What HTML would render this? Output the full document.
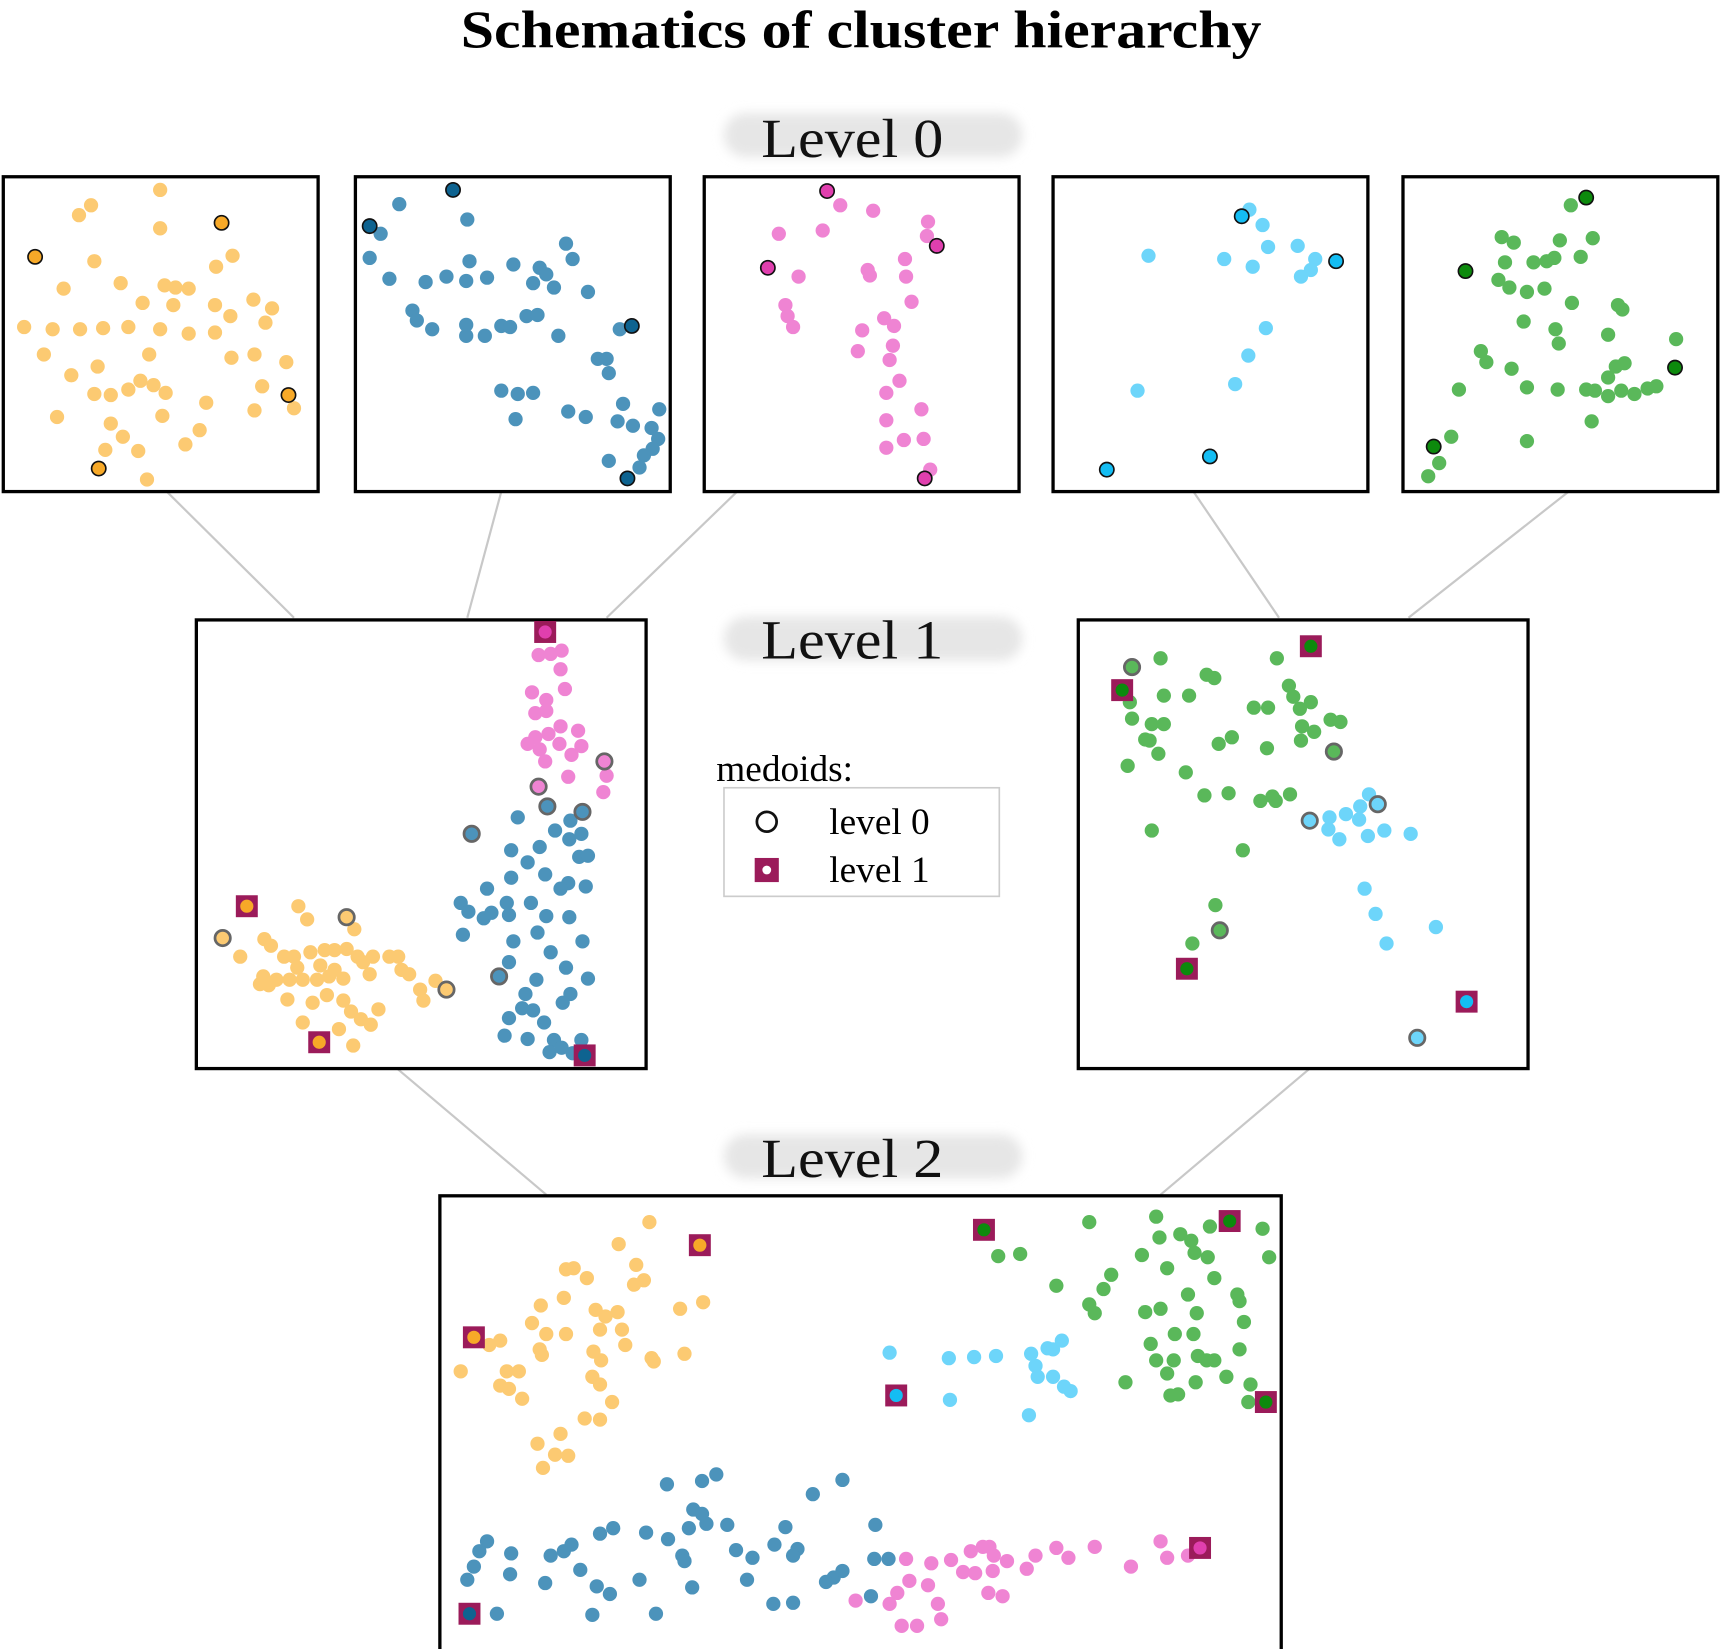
<!DOCTYPE html>
<html><head><meta charset="utf-8">
<style>
html,body{margin:0;padding:0;background:#fff;}
svg{display:block;}
</style></head>
<body>
<svg id="s" width="1720" height="1649" viewBox="0 0 1568 1503" xmlns="http://www.w3.org/2000/svg">
<defs>
<filter id="bl" x="-20%" y="-50%" width="140%" height="200%"><feGaussianBlur stdDeviation="5"/></filter>
</defs>
<rect width="1568" height="1503" fill="#fff"/>
<text x="420" y="43" textLength="730" lengthAdjust="spacingAndGlyphs" font-family="Liberation Serif, serif" font-weight="bold" font-size="48">Schematics of cluster hierarchy</text>
<g fill="#e6e6e6" filter="url(#bl)">
<rect x="660" y="103" width="272" height="40" rx="20"/>
<rect x="660" y="562" width="272" height="40" rx="20"/>
<rect x="660" y="1034" width="272" height="40" rx="20"/>
</g>
<g font-family="Liberation Serif, serif" font-size="50" fill="#111">
<text x="694" y="143" textLength="166" lengthAdjust="spacingAndGlyphs">Level 0</text>
<text x="694" y="600" textLength="166" lengthAdjust="spacingAndGlyphs">Level 1</text>
<text x="694" y="1073" textLength="166" lengthAdjust="spacingAndGlyphs">Level 2</text>
</g>
<g stroke="#c8c8c8" stroke-width="2">
<line x1="152" y1="448" x2="268" y2="563"/>
<line x1="457" y1="448" x2="426" y2="563"/>
<line x1="672" y1="448" x2="553" y2="563"/>
<line x1="1088" y1="448" x2="1166" y2="563"/>
<line x1="1430" y1="448" x2="1284" y2="563"/>
<line x1="362" y1="974" x2="498" y2="1089"/>
<line x1="1194" y1="974" x2="1058" y2="1089"/>
</g>
<g fill="none" stroke="#000" stroke-width="3">
<rect x="3" y="161" width="287" height="287"/>
<rect x="324" y="161" width="287" height="287"/>
<rect x="642" y="161" width="287" height="287"/>
<rect x="960" y="161" width="287" height="287"/>
<rect x="1279" y="161" width="287" height="287"/>
<rect x="179" y="565" width="410" height="409"/>
<rect x="983" y="565" width="410" height="409"/>
<rect x="401" y="1090" width="767" height="420"/>
</g>
<text x="653" y="712" font-family="Liberation Serif, serif" font-size="34">medoids:</text>
<rect x="660" y="718" width="251" height="99" fill="#fff" stroke="#ccc" stroke-width="1.5"/>
<circle cx="699" cy="749" r="9" fill="none" stroke="#111" stroke-width="2.5"/>
<rect x="688" y="782" width="22" height="22" fill="#9b1b5a"/>
<circle cx="699" cy="793" r="4" fill="#fff"/>
<g font-family="Liberation Serif, serif" font-size="34">
<text x="756" y="760">level 0</text>
<text x="756" y="804">level 1</text>
</g>
<g id="pts"></g>
</svg>
<script>
var C={o:["#fcca72","#f7a928"],b:["#4c93bb","#0e6390"],p:["#ef84d3","#e03fae"],c:["#6dd5fa","#14bdf3"],g:["#5ab85a","#0d8a0d"]};
var D=[
["o","146,173 83,187 72,196 146,208 212,233 197,243 86,238 110,258 58,263 150,260 160,262 172,263 130,276 196,278 231,273 248,281 158,278 210,288 22,298 48,300 73,300 94,299 117,298 146,300 172,304 196,303 242,294 40,323 136,323 211,326 232,323 261,330 89,334 65,342 128,347 86,359 101,360 117,355 140,351 151,358 239,352 188,367 232,374 268,372 52,380 101,386 148,379 112,398 182,392 169,405 126,411 96,410 134,437"],
["b","364,186 426,200 347,213 337,235 355,254 388,257 407,252 425,256 428,238 444,253 468,241 492,244 498,250 516,222 522,236 486,258 505,262 536,266 376,283 380,292 394,300 425,296 425,306 442,306 457,297 465,298 480,288 490,287 509,306 545,327 553,327 555,340 457,356 472,359 486,358 470,382 518,375 534,380 568,368 601,373 594,390 577,388 600,400 563,384 595,409 587,415 583,426 555,420 565,300"],
["p","766,187 796,192 846,202 710,213 750,210 845,215 728,252 791,246 825,236 793,251 826,252 716,278 718,288 723,298 806,290 786,301 815,297 831,275 814,315 782,320 811,328 820,347 808,358 840,373 808,383 808,408 824,401 842,400 848,428"],
["c","1139,191 1151,205 1047,233 1116,236 1142,243 1156,225 1183,224 1199,236 1195,246 1186,252 1154,299 1138,324 1126,350 1037,356"],
["g","1432,187 1369,216 1380,221 1422,219 1452,217 1441,234 1417,235 1410,238 1398,239 1372,239 1366,255 1376,262 1392,266 1408,263 1433,276 1475,278 1479,282 1389,293 1418,300 1421,313 1466,305 1528,309 1350,320 1355,330 1378,336 1473,334 1481,331 1466,344 1454,356 1466,361 1478,356 1392,353 1420,355 1446,355 1490,359 1502,354 1510,352 1330,355 1451,384 1323,398 1392,402 1312,422 1302,434"],
["p","491,597 502,596 512,593 511,610 485,631 498,638 515,628 488,650 498,648 511,662 488,672 500,669 510,678 492,683 527,666 530,680 521,688 481,678 497,694 553,707 518,708 550,722"],
["b","472,745 520,748 506,757 519,765 530,760 466,775 492,772 528,781 536,780 481,786 466,800 497,797 518,805 534,808 511,810 444,810 420,823 427,831 462,823 484,823 464,834 441,837 448,832 498,835 519,836 422,852 468,858 490,850 531,858 502,868 516,882 464,877 489,893 536,892 479,906 520,906 513,914 476,919 486,921 464,928 496,932 460,944 481,947 505,948 501,959 512,955 522,960 530,948"],
["o","272,826 280,838 241,856 247,862 219,872 259,872 268,872 283,868 296,866 305,866 323,847 316,865 292,880 271,882 252,893 237,897 245,898 264,893 276,893 240,890 262,911 285,914 298,907 313,912 320,922 329,929 345,920 338,934 309,938 276,932 322,953 326,872 340,872 355,872 363,872 337,888 366,884 373,888 383,902 386,912 397,894 313,892 300,890 289,893 305,884 331,877"],
["g","1058,600 1164,600 1175,625 1100,615 1107,618 1061,634 1084,634 1143,645 1156,645 1030,640 1032,655 1050,660 1061,660 1185,646 1187,662 1213,656 1222,658 1198,667 1186,675 1044,674 1048,675 1111,678 1123,672 1056,687 1155,682 1028,698 1081,704 1098,725 1120,723 1149,730 1160,726 1163,730 1176,724 1050,757 1133,775 1108,825 1087,860 1179,635 1195,640"],
["c","1248,724 1240,735 1227,742 1212,745 1239,747 1211,756 1221,765 1247,762 1262,757 1286,760 1244,810 1254,833 1264,860 1309,845"],
["o","592,1114 564,1134 516,1157 523,1156 535,1165 580,1153 587,1167 578,1171 514,1183 493,1190 485,1206 543,1194 563,1196 552,1200 620,1193 641,1187 498,1216 516,1216 547,1212 567,1212 456,1222 446,1226 492,1230 494,1235 541,1232 570,1226 548,1240 420,1250 462,1250 473,1250 594,1238 596,1241 624,1234 540,1255 547,1262 464,1266 456,1263 476,1275 558,1278 533,1293 547,1294 511,1307 490,1316 506,1326 518,1327 495,1338"],
["g","993,1114 1054,1109 1076,1125 1057,1128 1086,1131 1089,1142 1101,1146 1103,1118 1151,1120 1157,1146 910,1145 930,1143 1041,1144 1064,1156 1107,1165 963,1172 1013,1162 1006,1175 1083,1180 1128,1180 1130,1186 993,1189 998,1197 1044,1196 1058,1193 1091,1197 1134,1205 1071,1216 1088,1216 1049,1225 1092,1236 1130,1230 1054,1240 1070,1240 1100,1240 1107,1240 1118,1255 1064,1252 1026,1260 1090,1260 1140,1262 1067,1272 1074,1271 1138,1278"],
["c","811,1233 865,1238 888,1237 908,1236 940,1234 955,1229 960,1230 968,1222 946,1255 960,1255 970,1264 976,1268 866,1276 938,1290 944,1245"],
["b","653,1344 640,1350 608,1353 741,1362 768,1349 632,1376 640,1380 663,1390 628,1393 644,1389 559,1393 547,1398 589,1397 609,1403 716,1392 798,1390 444,1405 521,1408 514,1414 437,1414 466,1416 502,1418 622,1418 671,1413 706,1408 727,1412 624,1423 432,1428 465,1435 529,1431 723,1418 797,1421 810,1421 686,1420 760,1438 768,1432 426,1440 497,1443 544,1446 556,1453 583,1440 631,1447 681,1440 753,1442 705,1462 723,1461 794,1455 453,1471 540,1472 598,1471"],
["p","826,1421 849,1425 867,1422 885,1414 896,1410 902,1410 906,1418 918,1423 944,1418 963,1411 974,1420 998,1410 1031,1428 1058,1405 1064,1420 1083,1418 829,1441 846,1445 878,1433 889,1434 905,1432 936,1430 901,1452 914,1455 818,1452 780,1459 811,1462 855,1462 822,1482 836,1482 858,1476"]
];
var M0=[["o","32,234 202,203 263,360 90,427"],["b","413,173 337,206 576,297 572,436"],["p","754,174 854,224 700,244 843,436"],["c","1132,197 1218,238 1103,416 1009,428"],["g","1446,180 1336,247 1527,335 1307,407"]];
var MG=[["p","491,717 551,694"],["b","499,735 531,740 430,760 455,890"],["o","407,902 316,836 203,855"],["g","1032,608 1216,685 1112,848"],["c","1194,748 1256,733 1292,946"]];
var SQ=[["p","497,576 1094,1411"],["o","225,826 291,950 638,1135 432,1219"],["b","533,962 428,1471"],["g","1195,589 1023,629 1082,883 897,1121 1121,1113 1154,1278"],["c","1337,913 817,1272"]];
var g=document.getElementById("pts"),h="";
function each(s,f){s.split(" ").forEach(function(p){var a=p.split(",");f(+a[0],+a[1]);});}
D.forEach(function(d){each(d[1],function(x,y){h+='<circle cx="'+x+'" cy="'+y+'" r="6.5" fill="'+C[d[0]][0]+'"/>';});});
MG.forEach(function(d){each(d[1],function(x,y){h+='<circle cx="'+x+'" cy="'+y+'" r="7" fill="'+C[d[0]][0]+'" stroke="#666" stroke-width="2.5"/>';});});
M0.forEach(function(d){each(d[1],function(x,y){h+='<circle cx="'+x+'" cy="'+y+'" r="6.5" fill="'+C[d[0]][1]+'" stroke="#111" stroke-width="1.5"/>';});});
SQ.forEach(function(d){each(d[1],function(x,y){h+='<rect x="'+(x-10)+'" y="'+(y-10)+'" width="20" height="20" fill="#9b1b5a"/><circle cx="'+x+'" cy="'+y+'" r="6" fill="'+C[d[0]][1]+'"/>';});});
g.innerHTML=h;
</script>
</body></html>
